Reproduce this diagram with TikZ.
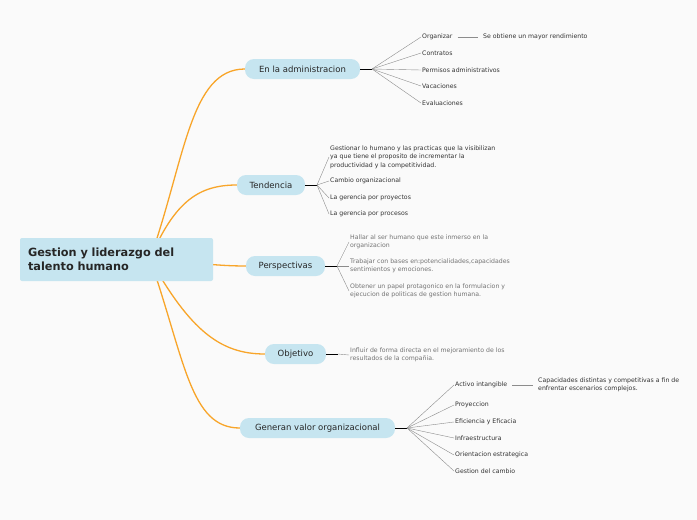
\documentclass[tikz,border=0pt]{standalone}
\usepackage{fontspec}
\setmainfont{DejaVu Sans}
\begin{document}
\begin{tikzpicture}[x=1pt,y=-1pt,
  pill/.style={fill=nodeblue, rounded corners=9pt, minimum height=20pt, inner xsep=6pt, font=\fontsize{8.5}{10}\selectfont, text=black!85},
  leaf/.style={anchor=west, inner xsep=1pt, inner ysep=1pt, font=\fontsize{6.2}{8.3}\selectfont, text=black!80, align=left},
  gleaf/.style={leaf, text=black!55},
  br/.style={draw=branchorange, line width=1.3pt},
  stub/.style={draw=black, line width=0.9pt},
  ln/.style={draw=black!45, line width=0.4pt}]
\definecolor{nodeblue}{HTML}{C6E5F0}
\definecolor{branchorange}{HTML}{F8A52A}
\fill[black!2] (0,0) rectangle (697,520);
\useasboundingbox (0,0) rectangle (697,520);
% nodes
\node[pill, minimum width=115pt] (a) at (302.5,69) {En la administracion};
\node[pill, minimum width=68pt] (t) at (271,185) {Tendencia};
\node[pill, minimum width=79pt] (p) at (285.5,266) {Perspectivas};
\node[pill, minimum width=61pt] (o) at (295.5,354) {Objetivo};
\node[pill, minimum width=155pt] (g) at (317.5,428) {Generan valor organizacional};
% branches
\coordinate (r) at (150,259);
\draw[br] (r) .. controls (185,160) and (190,69) .. (a.west);
\draw[br] (r) .. controls (175,200) and (200,185) .. (t.west);
\draw[br] (r) .. controls (190,262) and (215,266) .. (p.west);
\draw[br] (r) .. controls (190,330) and (220,354) .. (o.west);
\draw[br] (r) .. controls (185,360) and (190,428) .. (g.west);
\node[fill=nodeblue, rounded corners=2pt, minimum width=193pt, minimum height=43pt, text width=177pt, align=left, font=\bfseries\fontsize{11.3}{14}\selectfont, text=black!85] (root) at (116.5,259.5) {Gestion y liderazgo del\\talento humano};
% stubs
\coordinate (as) at (372,69); \draw[stub] (a.east) -- (as);
\coordinate (ts) at (317,185); \draw[stub] (t.east) -- (ts);
\coordinate (ps) at (337,266); \draw[stub] (p.east) -- (ps);
\coordinate (os) at (338,354); \draw[stub] (o.east) -- (os);
\coordinate (gs) at (407,428); \draw[stub] (g.east) -- (gs);
% admin leaves
\node[leaf] (a1) at (421,37) {Organizar};
\node[leaf] (a1b) at (482,37) {Se obtiene un mayor rendimiento};
\node[leaf] (a2) at (421,53) {Contratos};
\node[leaf] (a3) at (421,70) {Permisos administrativos};
\node[leaf] (a4) at (421,86) {Vacaciones};
\node[leaf] (a5) at (421,103) {Evaluaciones};
\foreach \n in {a1,a2,a3,a4,a5} \draw[ln] (as) -- (\n.west);
\draw[ln] ([xshift=4pt]a1.east) -- ([xshift=-4pt]a1b.west);
% tendencia
\node[leaf] (t1) at (329,157) {Gestionar lo humano y las practicas que la visibilizan\\ya que tiene el proposito de incrementar la\\productividad y la competitividad.};
\node[leaf] (t2) at (329,181) {Cambio organizacional};
\node[leaf] (t3) at (329,198) {La gerencia por proyectos};
\node[leaf] (t4) at (329,214) {La gerencia por procesos};
\foreach \n in {t1,t2,t3,t4} \draw[ln] (ts) -- (\n.west);
% perspectivas
\node[gleaf] (p1) at (349,242) {Hallar al ser humano que este inmerso en la\\organizacion};
\node[gleaf] (p2) at (349,266) {Trabajar con bases en:potencialidades,capacidades\\sentimientos y emociones.};
\node[gleaf] (p3) at (349,291) {Obtener un papel protagonico en la formulacion y\\ejecucion de politicas de gestion humana.};
\foreach \n in {p1,p2,p3} \draw[ln] (ps) -- (\n.west);
% objetivo
\node[gleaf] (o1) at (349,355) {Influir de forma directa en el mejoramiento de los\\resultados de la compañia.};
\draw[ln] (os) -- (o1.west);
% generan
\node[leaf] (g1) at (454,385) {Activo intangible};
\node[leaf] (g1b) at (537,385) {Capacidades distintas y competitivas a fin de\\enfrentar escenarios complejos.};
\node[leaf] (g2) at (454,405) {Proyeccion};
\node[leaf] (g3) at (454,422) {Eficiencia y Eficacia};
\node[leaf] (g4) at (454,438) {Infraestructura};
\node[leaf] (g5) at (454,455) {Orientacion estrategica};
\node[leaf] (g6) at (454,471) {Gestion del cambio};
\foreach \n in {g1,g2,g3,g4,g5,g6} \draw[ln] (gs) -- (\n.west);
\draw[ln] ([xshift=4pt]g1.east) -- ([xshift=-4pt]g1b.west|-g1.east);
\end{tikzpicture}
\end{document}
